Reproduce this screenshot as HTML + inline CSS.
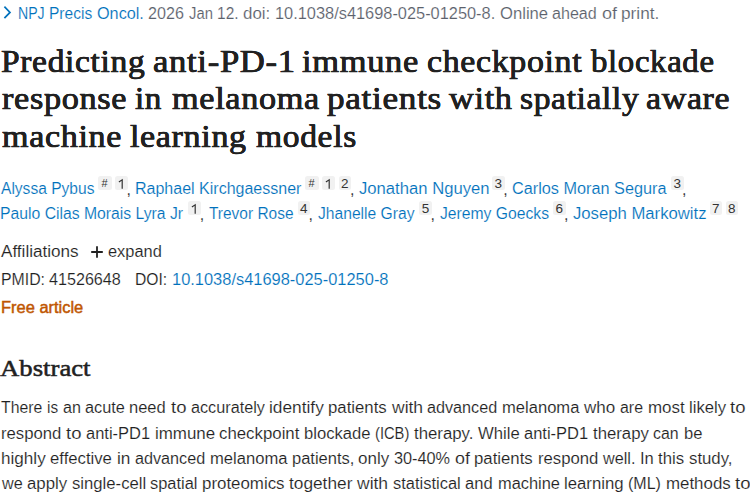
<!DOCTYPE html>
<html><head><meta charset="utf-8">
<style>
html,body{margin:0;padding:0;background:#fff;}
body{width:750px;height:500px;overflow:hidden;position:relative;}
.s{position:absolute;white-space:pre;line-height:40px;height:40px;transform-origin:0 0;}
.x{position:absolute;background:#f1f1f1;border-radius:2.5px;text-align:center;color:#333;font-family:"Liberation Sans",sans-serif;width:12.5px;height:14px;font-size:13.5px;line-height:16px;overflow:hidden}
.sa{font-family:"Liberation Sans",sans-serif;font-size:16px;-webkit-text-stroke:0.15px #fff;}
.bl{color:#0071bc}.gr{color:#5b616b}.dk{color:#212121}.or{color:#c05600;-webkit-text-stroke:0.45px #c05600}
.ti{font-family:"Liberation Serif",serif;font-size:31px;letter-spacing:0.6px;-webkit-text-stroke:0.62px #212121;text-shadow:0 0.4px 0 #212121,0 -0.4px 0 #212121;color:#212121;}
.hd{font-family:"Liberation Serif",serif;font-size:24px;-webkit-text-stroke:0.5px #212121;color:#212121;}
</style></head><body>
<span class="s ti" style="left:1.20px;top:42px;transform:scaleX(1.0820)">Predicting</span>
<span class="s ti" style="left:152.78px;top:42px;transform:scaleX(1.1184)">anti-PD-1</span>
<span class="s ti" style="left:302.30px;top:42px;transform:scaleX(1.1115)">immune</span>
<span class="s ti" style="left:426.71px;top:42px;transform:scaleX(1.0936)">checkpoint</span>
<span class="s ti" style="left:591.10px;top:42px;transform:scaleX(1.0595)">blockade</span>
<span class="s ti" style="left:1.80px;top:79px;transform:scaleX(1.1054)">response</span>
<span class="s ti" style="left:135.20px;top:79px;transform:scaleX(1.0680)">in</span>
<span class="s ti" style="left:171.70px;top:79px;transform:scaleX(1.1045)">melanoma</span>
<span class="s ti" style="left:327.30px;top:79px;transform:scaleX(1.1360)">patients</span>
<span class="s ti" style="left:448.90px;top:79px;transform:scaleX(1.1070)">with</span>
<span class="s ti" style="left:520.32px;top:79px;transform:scaleX(1.0817)">spatially</span>
<span class="s ti" style="left:646.41px;top:79px;transform:scaleX(1.0947)">aware</span>
<span class="s ti" style="left:1.80px;top:117px;transform:scaleX(1.1000)">machine</span>
<span class="s ti" style="left:130.20px;top:117px;transform:scaleX(1.0972)">learning</span>
<span class="s ti" style="left:255.70px;top:117px;transform:scaleX(1.0826)">models</span>
<span class="s sa bl" style="left:18.24px;top:-6px;transform:scaleX(0.8815)">NPJ</span>
<span class="s sa bl" style="left:49.26px;top:-6px;transform:scaleX(0.9714)">Precis</span>
<span class="s sa bl" style="left:96.79px;top:-6px;transform:scaleX(1.0136)">Oncol.</span>
<span class="s hd" style="left:0.00px;top:348px;transform:scaleX(1.1134)">Abstract</span>
<span class="s sa or" style="left:0.97px;top:288px;transform:scaleX(1.0278)">Free article</span>
<span class="s sa bl" style="left:1.30px;top:169px;transform:scaleX(0.9726)">Alyssa Pybus</span>
<span class="s sa bl" style="left:135.00px;top:169px;transform:scaleX(1.0006)">Raphael Kirchgaessner</span>
<span class="s sa bl" style="left:359.06px;top:169px;transform:scaleX(1.0407)">Jonathan Nguyen</span>
<span class="s sa bl" style="left:512.18px;top:169px;transform:scaleX(1.0159)">Carlos Moran Segura</span>
<span class="s sa bl" style="left:0.03px;top:194px;transform:scaleX(0.9837)">Paulo Cilas Morais Lyra Jr</span>
<span class="s sa bl" style="left:209.43px;top:194px;transform:scaleX(0.9663)">Trevor Rose</span>
<span class="s sa bl" style="left:317.82px;top:194px;transform:scaleX(0.9776)">Jhanelle Gray</span>
<span class="s sa bl" style="left:439.72px;top:194px;transform:scaleX(0.9809)">Jeremy Goecks</span>
<span class="s sa bl" style="left:573.16px;top:194px;transform:scaleX(1.0429)">Joseph Markowitz</span>
<span class="s sa gr" style="left:148.30px;top:-6px;transform:scaleX(1.0086)">2026</span>
<span class="s sa gr" style="left:188.70px;top:-6px;transform:scaleX(0.9265)">Jan</span>
<span class="s sa gr" style="left:217.10px;top:-6px;transform:scaleX(0.9708)">12.</span>
<span class="s sa gr" style="left:243.20px;top:-6px;transform:scaleX(1.0544)">doi:</span>
<span class="s sa gr" style="left:274.90px;top:-6px;transform:scaleX(1.0228)">10.1038/s41698-025-01250-8.</span>
<span class="s sa gr" style="left:499.60px;top:-6px;transform:scaleX(1.0400)">Online</span>
<span class="s sa gr" style="left:552.30px;top:-6px;transform:scaleX(1.0067)">ahead</span>
<span class="s sa gr" style="left:601.70px;top:-6px;transform:scaleX(1.1241)">of</span>
<span class="s sa gr" style="left:621.20px;top:-6px;transform:scaleX(1.0765)">print.</span>
<span class="s sa dk" style="left:1.00px;top:388px;transform:scaleX(0.9881)">There</span>
<span class="s sa dk" style="left:46.90px;top:388px;transform:scaleX(0.9600)">is</span>
<span class="s sa dk" style="left:62.50px;top:388px;transform:scaleX(1.0058)">an</span>
<span class="s sa dk" style="left:85.00px;top:388px;transform:scaleX(1.0194)">acute</span>
<span class="s sa dk" style="left:129.40px;top:388px;transform:scaleX(1.0311)">need</span>
<span class="s sa dk" style="left:170.60px;top:388px;transform:scaleX(1.1541)">to</span>
<span class="s sa dk" style="left:190.60px;top:388px;transform:scaleX(1.0134)">accurately</span>
<span class="s sa dk" style="left:269.00px;top:388px;transform:scaleX(1.0808)">identify</span>
<span class="s sa dk" style="left:328.40px;top:388px;transform:scaleX(1.0473)">patients</span>
<span class="s sa dk" style="left:391.70px;top:388px;transform:scaleX(1.0930)">with</span>
<span class="s sa dk" style="left:427.40px;top:388px;transform:scaleX(1.0117)">advanced</span>
<span class="s sa dk" style="left:502.20px;top:388px;transform:scaleX(1.0361)">melanoma</span>
<span class="s sa dk" style="left:584.20px;top:388px;transform:scaleX(1.0627)">who</span>
<span class="s sa dk" style="left:619.90px;top:388px;transform:scaleX(0.9946)">are</span>
<span class="s sa dk" style="left:647.50px;top:388px;transform:scaleX(1.0585)">most</span>
<span class="s sa dk" style="left:688.80px;top:388px;transform:scaleX(1.0432)">likely</span>
<span class="s sa dk" style="left:730.40px;top:388px;transform:scaleX(1.1541)">to</span>
<span class="s sa dk" style="left:1.00px;top:414px;transform:scaleX(1.0427)">respond</span>
<span class="s sa dk" style="left:65.80px;top:414px;transform:scaleX(1.1541)">to</span>
<span class="s sa dk" style="left:85.80px;top:414px;transform:scaleX(1.0297)">anti-PD1</span>
<span class="s sa dk" style="left:154.50px;top:414px;transform:scaleX(1.0579)">immune</span>
<span class="s sa dk" style="left:219.20px;top:414px;transform:scaleX(1.0510)">checkpoint</span>
<span class="s sa dk" style="left:304.20px;top:414px;transform:scaleX(1.0383)">blockade</span>
<span class="s sa dk" style="left:375.20px;top:414px;transform:scaleX(0.9189)">(ICB)</span>
<span class="s sa dk" style="left:414.10px;top:414px;transform:scaleX(1.0490)">therapy.</span>
<span class="s sa dk" style="left:478.10px;top:414px;transform:scaleX(1.0421)">While</span>
<span class="s sa dk" style="left:524.30px;top:414px;transform:scaleX(1.0313)">anti-PD1</span>
<span class="s sa dk" style="left:593.00px;top:414px;transform:scaleX(1.0473)">therapy</span>
<span class="s sa dk" style="left:653.40px;top:414px;transform:scaleX(0.9924)">can</span>
<span class="s sa dk" style="left:683.50px;top:414px;transform:scaleX(1.0395)">be</span>
<span class="s sa dk" style="left:1.00px;top:439px;transform:scaleX(1.0691)">highly</span>
<span class="s sa dk" style="left:50.20px;top:439px;transform:scaleX(1.0439)">effective</span>
<span class="s sa dk" style="left:116.70px;top:439px;transform:scaleX(1.0760)">in</span>
<span class="s sa dk" style="left:134.70px;top:439px;transform:scaleX(1.0117)">advanced</span>
<span class="s sa dk" style="left:209.50px;top:439px;transform:scaleX(1.0374)">melanoma</span>
<span class="s sa dk" style="left:291.50px;top:439px;transform:scaleX(1.0317)">patients,</span>
<span class="s sa dk" style="left:358.40px;top:439px;transform:scaleX(1.0627)">only</span>
<span class="s sa dk" style="left:394.20px;top:439px;transform:scaleX(1.0171)">30-40%</span>
<span class="s sa dk" style="left:454.90px;top:439px;transform:scaleX(1.1166)">of</span>
<span class="s sa dk" style="left:474.40px;top:439px;transform:scaleX(1.0473)">patients</span>
<span class="s sa dk" style="left:537.70px;top:439px;transform:scaleX(1.0427)">respond</span>
<span class="s sa dk" style="left:602.50px;top:439px;transform:scaleX(1.0120)">well.</span>
<span class="s sa dk" style="left:639.50px;top:439px;transform:scaleX(1.0342)">In</span>
<span class="s sa dk" style="left:657.90px;top:439px;transform:scaleX(1.0479)">this</span>
<span class="s sa dk" style="left:688.60px;top:439px;transform:scaleX(1.0482)">study,</span>
<span class="s sa dk" style="left:1.70px;top:464px;transform:scaleX(1.0121)">we</span>
<span class="s sa dk" style="left:27.00px;top:464px;transform:scaleX(1.0484)">apply</span>
<span class="s sa dk" style="left:71.60px;top:464px;transform:scaleX(1.0430)">single-cell</span>
<span class="s sa dk" style="left:150.30px;top:464px;transform:scaleX(1.0270)">spatial</span>
<span class="s sa dk" style="left:202.40px;top:464px;transform:scaleX(1.0543)">proteomics</span>
<span class="s sa dk" style="left:289.40px;top:464px;transform:scaleX(1.0797)">together</span>
<span class="s sa dk" style="left:357.40px;top:464px;transform:scaleX(1.0930)">with</span>
<span class="s sa dk" style="left:393.10px;top:464px;transform:scaleX(1.0289)">statistical</span>
<span class="s sa dk" style="left:465.40px;top:464px;transform:scaleX(1.0336)">and</span>
<span class="s sa dk" style="left:497.60px;top:464px;transform:scaleX(1.0251)">machine</span>
<span class="s sa dk" style="left:564.20px;top:464px;transform:scaleX(1.0468)">learning</span>
<span class="s sa dk" style="left:628.30px;top:464px;transform:scaleX(1.0003)">(ML)</span>
<span class="s sa dk" style="left:665.70px;top:464px;transform:scaleX(1.0542)">methods</span>
<span class="s sa dk" style="left:734.90px;top:464px;transform:scaleX(1.1541)">to</span>
<span class="s sa dk" style="left:0.50px;top:232px;transform:scaleX(1.0683)">Affiliations</span>
<span class="s sa dk" style="left:107.60px;top:232px;transform:scaleX(1.0248)">expand</span>
<span class="s sa dk" style="left:0.60px;top:260px;transform:scaleX(0.9898)">PMID:</span>
<span class="s sa dk" style="left:49.10px;top:260px;transform:scaleX(1.0086)">41526648</span>
<span class="s sa dk" style="left:135.00px;top:260px;transform:scaleX(0.9790)">DOI:</span>
<span class="s sa bl" style="left:172.00px;top:260px;transform:scaleX(1.0268)">10.1038/s41698-025-01250-8</span>
<span class="s sa dk" style="left:126.5px;top:170px">,</span>
<span class="s sa dk" style="left:350.0px;top:170px">,</span>
<span class="s sa dk" style="left:503.2px;top:170px">,</span>
<span class="s sa dk" style="left:681.9px;top:170px">,</span>
<span class="s sa dk" style="left:199.8px;top:195px">,</span>
<span class="s sa dk" style="left:308.5px;top:195px">,</span>
<span class="s sa dk" style="left:430.5px;top:195px">,</span>
<span class="s sa dk" style="left:564.1px;top:195px">,</span>
<svg style="position:absolute;left:0px;top:0px" width="14" height="24" viewBox="0 0 14 24"><path d="M4.4 6.6 L10 12.4 L4.4 18.2" fill="none" stroke="#0071bc" stroke-width="1.7"/></svg>
<svg style="position:absolute;left:89.5px;top:245px" width="14" height="14" viewBox="0 0 14 14"><path d="M7 1.2V12.8M1.2 7H12.8" fill="none" stroke="#212121" stroke-width="1.8"/></svg>
<div class="x" style="left:97.5px;top:176px;width:14px;font-size:11px;line-height:15.5px">#</div>
<div class="x" style="left:115px;top:176px"><svg width="13" height="14" viewBox="0 0 13 14" style="display:block"><path d="M3.9 5.9 L7.2 3.8 V12.7" fill="none" stroke="#333" stroke-width="1.2" stroke-linejoin="miter"/></svg></div>
<div class="x" style="left:304.5px;top:176px;width:14px;font-size:11px;line-height:15.5px">#</div>
<div class="x" style="left:322px;top:176px"><svg width="13" height="14" viewBox="0 0 13 14" style="display:block"><path d="M3.9 5.9 L7.2 3.8 V12.7" fill="none" stroke="#333" stroke-width="1.2" stroke-linejoin="miter"/></svg></div>
<div class="x" style="left:338.5px;top:176px">2</div>
<div class="x" style="left:492px;top:176px">3</div>
<div class="x" style="left:671px;top:176px">3</div>
<div class="x" style="left:188.3px;top:201px"><svg width="13" height="14" viewBox="0 0 13 14" style="display:block"><path d="M3.9 5.9 L7.2 3.8 V12.7" fill="none" stroke="#333" stroke-width="1.2" stroke-linejoin="miter"/></svg></div>
<div class="x" style="left:297.5px;top:201px">4</div>
<div class="x" style="left:419.3px;top:201px">5</div>
<div class="x" style="left:553px;top:201px">6</div>
<div class="x" style="left:709.5px;top:201px">7</div>
<div class="x" style="left:725.5px;top:201px">8</div>
</body></html>
